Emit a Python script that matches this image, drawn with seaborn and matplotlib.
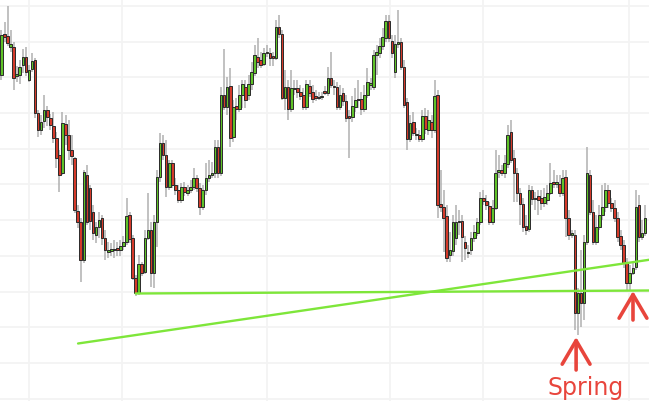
"""Grafico de velas con soportes y marcas de Spring."""

import matplotlib

matplotlib.use("Agg")
import matplotlib.pyplot as plt
import numpy as np
import pandas as pd
import seaborn as sns


opens = [
    325, 366, 364, 353, 353, 324, 325, 335, 343, 320,
    331, 340, 287, 270, 279, 290, 282, 274, 262, 245,
    227, 276, 265, 250, 242, 189, 178, 140, 225, 212,
    188, 165, 173, 182, 162, 148, 149, 150, 152, 150,
    154, 158, 185, 162, 122, 107, 136, 128, 162, 170,
    127, 178, 223, 257, 245, 213, 237, 215, 210, 200,
    213, 207, 210, 213, 222, 212, 193, 210, 222, 225,
    227, 253, 227, 305, 293, 314, 263, 294, 291, 305,
    313, 305, 316, 327, 343, 340, 336, 347, 347, 344,
    342, 373, 366, 302, 313, 291, 311, 312, 308, 305,
    293, 314, 308, 304, 302, 303, 309, 307, 322, 314,
    313, 293, 307, 299, 284, 283, 293, 301, 301, 291,
    305, 315, 313, 345, 347, 354, 362, 379, 359, 328,
    356, 358, 333, 298, 261, 278, 265, 265, 261, 284,
    270, 278, 270, 305, 196, 193, 184, 145, 149, 162,
    179, 179, 158, 147, 150, 162, 167, 178, 202, 199,
    194, 178, 192, 228, 230, 227, 236, 268, 242, 227,
    207, 196, 174, 171, 210, 201, 204, 202, 197, 200,
    207, 218, 216, 216, 207, 223, 182, 165, 165, 87,
    107, 97, 158, 225, 188, 158, 173, 185, 193, 210,
    197, 192, 182, 164, 155, 138, 117, 127, 133, 195,
    163, 167,
]
closes = [
    365, 363, 357, 356, 322, 326, 333, 343, 328, 330,
    339, 287, 270, 278, 290, 283, 275, 262, 242, 225,
    277, 265, 250, 244, 190, 178, 140, 228, 178, 179,
    167, 173, 180, 162, 150, 150, 151, 151, 150, 154,
    158, 184, 161, 122, 107, 136, 127, 162, 170, 127,
    178, 223, 257, 245, 213, 237, 215, 210, 200, 213,
    208, 210, 213, 222, 212, 193, 210, 222, 225, 227,
    253, 227, 305, 293, 313, 262, 293, 291, 305, 316,
    300, 316, 328, 345, 338, 335, 347, 348, 342, 342,
    373, 366, 302, 313, 291, 312, 312, 308, 304, 293,
    316, 307, 301, 302, 303, 304, 307, 322, 315, 313,
    293, 305, 299, 282, 282, 294, 300, 300, 291, 305,
    318, 317, 345, 348, 354, 363, 379, 362, 347, 356,
    358, 333, 295, 261, 277, 267, 266, 261, 284, 271,
    280, 270, 304, 195, 193, 182, 142, 150, 178, 178,
    178, 163, 152, 148, 162, 168, 178, 202, 199, 195,
    178, 192, 227, 230, 227, 237, 265, 240, 227, 207,
    196, 173, 170, 210, 201, 202, 200, 197, 203, 207,
    217, 216, 218, 207, 222, 182, 165, 167, 87, 107,
    97, 158, 227, 188, 158, 173, 185, 193, 210, 197,
    192, 182, 163, 155, 137, 117, 127, 132, 193, 163,
    167, 182,
]
highs = [
    370, 378, 394, 370, 358, 334, 340, 351, 353, 335,
    347, 342, 290, 285, 305, 294, 286, 288, 268, 250,
    288, 285, 280, 265, 243, 195, 182, 230, 235, 215,
    195, 178, 188, 185, 170, 158, 157, 160, 158, 160,
    164, 202, 188, 165, 125, 145, 138, 170, 207, 178,
    185, 230, 267, 265, 260, 240, 240, 222, 215, 217,
    218, 215, 220, 232, 225, 217, 215, 237, 240, 238,
    260, 260, 313, 351, 323, 332, 300, 302, 315, 320,
    320, 325, 338, 355, 362, 348, 352, 355, 352, 348,
    380, 385, 370, 330, 320, 330, 320, 320, 315, 312,
    320, 320, 315, 310, 308, 308, 314, 333, 348, 320,
    318, 315, 312, 305, 290, 304, 312, 320, 308, 315,
    332, 322, 350, 355, 362, 372, 385, 385, 365, 365,
    390, 362, 340, 302, 285, 288, 272, 270, 290, 292,
    290, 285, 320, 310, 230, 210, 195, 168, 185, 195,
    190, 185, 164, 155, 168, 175, 182, 208, 210, 205,
    198, 200, 250, 245, 235, 245, 275, 280, 250, 232,
    212, 202, 185, 215, 214, 208, 210, 210, 212, 215,
    237, 230, 225, 225, 230, 230, 190, 170, 170, 112,
    150, 165, 253, 230, 200, 185, 195, 215, 217, 215,
    202, 200, 188, 170, 160, 142, 135, 138, 210, 205,
    180, 195,
]
lows = [
    320, 358, 354, 348, 310, 318, 316, 327, 324, 318,
    328, 282, 263, 265, 272, 274, 270, 257, 232, 208,
    225, 255, 240, 235, 187, 172, 118, 137, 175, 170,
    160, 157, 162, 155, 140, 142, 144, 142, 144, 144,
    150, 155, 157, 120, 104, 105, 124, 126, 160, 113,
    112, 153, 218, 240, 203, 210, 212, 205, 197, 197,
    204, 204, 207, 210, 208, 185, 190, 205, 218, 222,
    222, 222, 224, 290, 285, 253, 258, 280, 288, 292,
    292, 300, 310, 324, 332, 332, 334, 343, 334, 334,
    340, 362, 300, 290, 280, 288, 305, 302, 300, 290,
    290, 303, 297, 299, 300, 300, 305, 304, 312, 305,
    290, 290, 294, 278, 242, 278, 288, 292, 285, 288,
    302, 310, 310, 325, 342, 350, 358, 358, 342, 322,
    352, 330, 292, 250, 258, 264, 260, 258, 258, 266,
    265, 262, 267, 182, 188, 148, 138, 138, 144, 155,
    165, 138, 140, 142, 145, 158, 164, 175, 195, 190,
    175, 175, 190, 222, 224, 222, 232, 237, 198, 198,
    175, 168, 165, 168, 195, 190, 185, 190, 193, 195,
    205, 212, 212, 203, 204, 163, 160, 162, 70, 65,
    73, 80, 155, 185, 155, 155, 170, 180, 188, 192,
    188, 178, 158, 150, 132, 110, 110, 125, 130, 158,
    160, 164,
]

# lineas de soporte (indice de vela, precio)
support_x = [44, 212.3]
support_y = [106.5, 109.5]
trend_x = [25.1, 212.3]
trend_y = [56.5, 140.2]

# flechas de Spring
arrow_x = [188.4, 207.05]
arrow_tip = [63, 109]
arrow_tail = [30, 80]
spring_label = "Spring"

GREEN = "#5fc228"
RED = "#d43a2a"
LIME = "#7ee63a"
ARROW_RED = "#e8453c"

sns.set_theme(style="whitegrid")

candles = pd.DataFrame({"open": opens, "close": closes, "high": highs, "low": lows})
candles["x"] = np.arange(len(candles))
up = candles["close"] >= candles["open"]
body = (candles["close"] - candles["open"]).abs().clip(lower=0.8)
bottom = candles[["open", "close"]].min(axis=1)

fig = plt.figure(figsize=(6.49, 4.01), dpi=100)
ax = fig.add_axes([0, 0, 1, 1])

ax.vlines(candles["x"], candles["low"], candles["high"], color="#b0b0b0", linewidth=1.1, zorder=2)
ax.bar(
    candles["x"],
    body,
    bottom=bottom,
    width=0.85,
    color=np.where(up, GREEN, RED),
    edgecolor="#2a2a2a",
    linewidth=0.7,
    zorder=3,
)

sns.lineplot(x=support_x, y=support_y, ax=ax, color=LIME, linewidth=1.7, zorder=4)
sns.lineplot(x=trend_x, y=trend_y, ax=ax, color=LIME, linewidth=1.7, zorder=4)

for x, tip, tail in zip(arrow_x, arrow_tip, arrow_tail):
    ax.annotate(
        "",
        xy=(x, tip),
        xytext=(x, tail),
        arrowprops=dict(
            arrowstyle="->,head_length=0.85,head_width=0.5",
            color=ARROW_RED,
            lw=2.6,
            mutation_scale=20,
            shrinkA=0,
            shrinkB=0,
        ),
        zorder=5,
    )
ax.text(191.6, 5, spring_label, ha="center", va="baseline", fontsize=17, color=ARROW_RED)

ax.set_xlim(-0.49, 212.3)
ax.set_ylim(-1, 400)
ax.set_xticks([9.0, 39.5, 87.0, 127.4, 157.9, 205.7])
ax.set_yticks(np.arange(394, 0, -35.7))
ax.tick_params(labelbottom=False, labelleft=False, length=0)
for spine in ax.spines.values():
    spine.set_visible(False)
ax.grid(color="#f3f3f3", linewidth=1.3)

fig.savefig("out.png", dpi=100)
plt.close(fig)
